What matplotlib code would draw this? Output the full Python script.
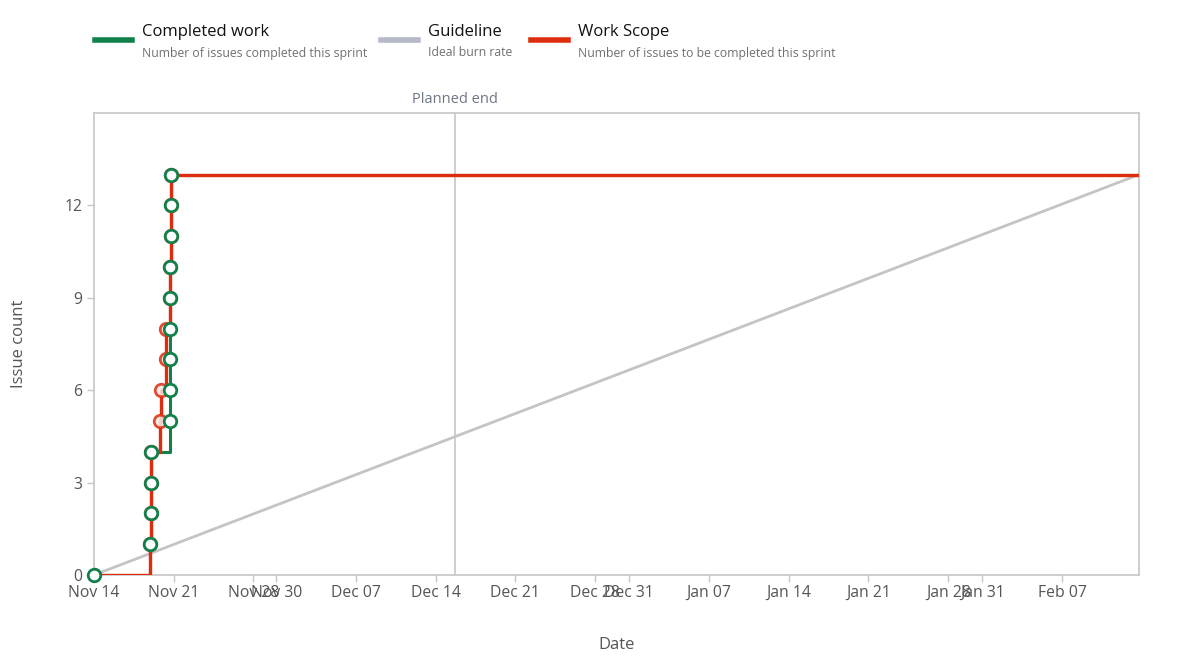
import matplotlib
matplotlib.use("Agg")
import matplotlib.pyplot as plt
import matplotlib.dates as mdates
from matplotlib.lines import Line2D
import pandas as pd

plt.rcParams['font.family'] = ['Open Sans', 'DejaVu Sans']

# --- data ---
completed_times = ["2022-11-14 00:00", "2022-11-18 23:00", "2022-11-18 23:10", "2022-11-18 23:20",
                   "2022-11-18 23:30", "2022-11-20 16:00", "2022-11-20 16:10", "2022-11-20 16:20",
                   "2022-11-20 16:30", "2022-11-20 17:00", "2022-11-20 17:10", "2022-11-20 17:20",
                   "2022-11-20 17:30", "2022-11-20 17:40"]
completed_counts = [0, 1, 2, 3, 4, 5, 6, 7, 8, 9, 10, 11, 12, 13]

scope_times = ["2022-11-14 00:00", "2022-11-18 23:00", "2022-11-18 23:10", "2022-11-18 23:20",
               "2022-11-18 23:30", "2022-11-19 20:00", "2022-11-19 20:10", "2022-11-20 08:30",
               "2022-11-20 08:40", "2022-11-20 17:00", "2022-11-20 17:10", "2022-11-20 17:20",
               "2022-11-20 17:30", "2022-11-20 17:40"]
scope_counts = [0, 1, 2, 3, 4, 5, 6, 7, 8, 9, 10, 11, 12, 13]

start_date = "2022-11-14 00:00"
end_date = "2023-02-13 18:00"
planned_end = "2022-12-15 17:00"
total_issues = 13

tick_dates = ["2022-11-14", "2022-11-21", "2022-11-28", "2022-11-30", "2022-12-07", "2022-12-14",
              "2022-12-21", "2022-12-28", "2022-12-31", "2023-01-07", "2023-01-14", "2023-01-21",
              "2023-01-28", "2023-01-31", "2023-02-07"]

GREEN = "#12804a"
RED = "#dd2c0e"
GRID = "#c6c6c6"
TEXT = "#555555"

ct = pd.to_datetime(completed_times)
st = pd.to_datetime(scope_times)
t0 = pd.Timestamp(start_date)
t1 = pd.Timestamp(end_date)

fig = plt.figure(figsize=(12, 6.66), dpi=100)
ax = fig.add_axes([94 / 1200, 1 - 575 / 666, (1139 - 94) / 1200, (575 - 113) / 666])

# guideline
ax.plot([t0, t1], [0, total_issues], color="#c4c4c4", lw=2, zorder=2)
# planned end
ax.axvline(pd.Timestamp(planned_end), color=GRID, lw=1.2, zorder=1)
ax.text(pd.Timestamp(planned_end), 1.012, "Planned end", transform=ax.get_xaxis_transform(),
        ha="center", va="bottom", fontsize=10.5, color="#6e7787")

# step lines
ax.step(list(ct) + [t1], completed_counts + [completed_counts[-1]], where="post",
        color=GREEN, lw=2.2, zorder=3)
ax.step(list(st) + [t1], scope_counts + [scope_counts[-1]], where="post",
        color=RED, lw=2.4, zorder=4)
# markers
ax.plot(st, scope_counts, ls="none", marker="o", ms=9, mfc="#fbeae6", mec=RED, mew=2,
        alpha=0.85, zorder=5)
ax.plot(ct, completed_counts, ls="none", marker="o", ms=9, mfc="white", mec=GREEN, mew=2,
        zorder=6, clip_on=False)

ax.set_xlim(t0, t1)
ax.set_ylim(0, 15)
ax.set_yticks([0, 3, 6, 9, 12])
ax.set_xticks(pd.to_datetime(tick_dates))
ax.xaxis.set_major_formatter(mdates.DateFormatter("%b %d"))
ax.tick_params(axis="both", colors=GRID, labelcolor=TEXT, labelsize=11.3, length=5, width=1)
ax.tick_params(axis="x", pad=2)
for s in ax.spines.values():
    s.set_color(GRID)
    s.set_linewidth(1.2)

ax.set_xlabel("Date", fontsize=12, color=TEXT, labelpad=26)
ax.set_ylabel("Issue count", fontsize=12, color=TEXT, labelpad=27)

# legend
legend_items = [
    (95, GREEN, "Completed work", "Number of issues completed this sprint"),
    (381, "#b3bac8", "Guideline", "Ideal burn rate"),
    (531, RED, "Work Scope", "Number of issues to be completed this sprint"),
]
for x, color, title, sub in legend_items:
    fig.add_artist(Line2D([x / 1200, (x + 37) / 1200], [1 - 40 / 666, 1 - 40 / 666],
                          color=color, lw=4, transform=fig.transFigure))
    fig.text((x + 47) / 1200, 1 - 32 / 666, title, fontsize=12, color="#111111", va="center")
    fig.text((x + 47) / 1200, 1 - 53 / 666, sub, fontsize=8.8, color="#707070", va="center")

fig.savefig("out.png", dpi=100, facecolor="white")
